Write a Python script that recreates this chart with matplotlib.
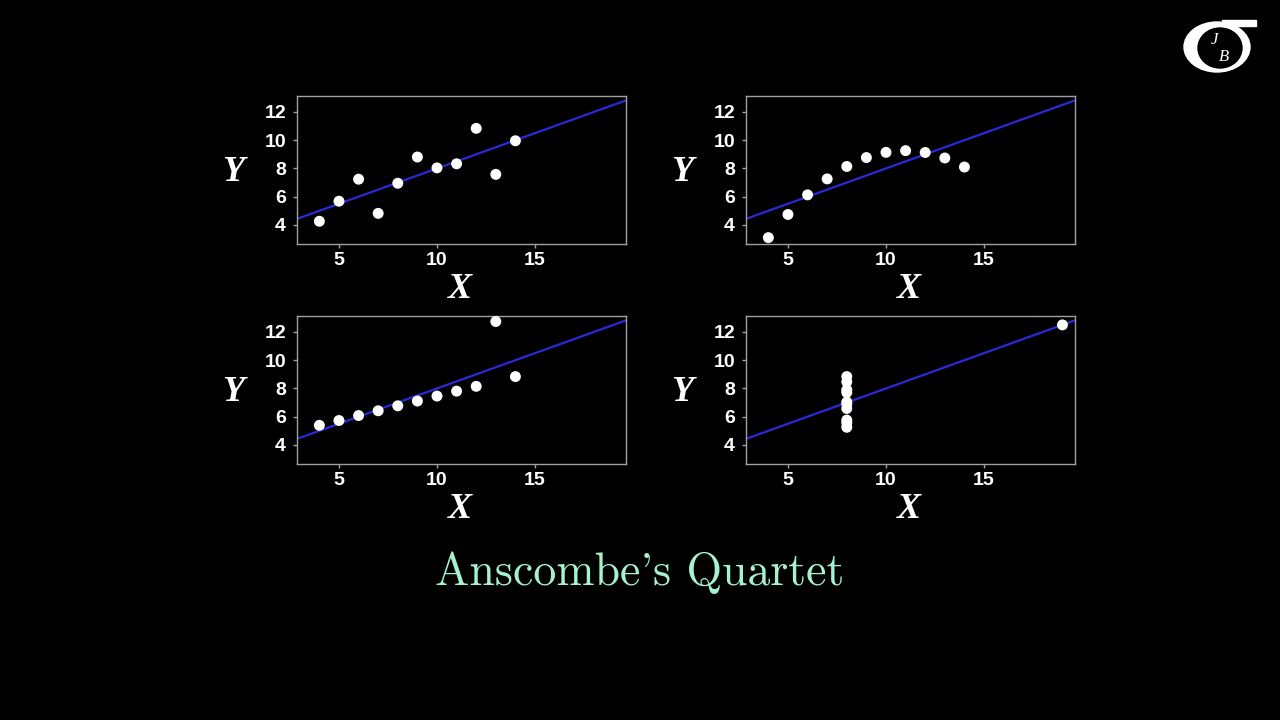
import matplotlib.pyplot as plt
from matplotlib.patches import Ellipse, Rectangle

x123 = [10, 8, 13, 9, 11, 14, 6, 4, 12, 7, 5]
y1 = [8.04, 6.95, 7.58, 8.81, 8.33, 9.96, 7.24, 4.26, 10.84, 4.82, 5.68]
y2 = [9.14, 8.14, 8.74, 8.77, 9.26, 8.10, 6.13, 3.10, 9.13, 7.26, 4.74]
y3 = [7.46, 6.77, 12.74, 7.11, 7.81, 8.84, 6.08, 5.39, 8.15, 6.42, 5.73]
x4 = [8, 8, 8, 8, 8, 8, 8, 19, 8, 8, 8]
y4 = [6.58, 5.76, 7.71, 8.84, 8.47, 7.04, 5.25, 12.50, 5.56, 7.91, 6.89]

# fitted line y = 3 + 0.5 x (same for all four sets)
fit_a = 3.0
fit_b = 0.5
xticks = [5, 10, 15]
yticks = [4, 6, 8, 10, 12]
title = "Anscombe's Quartet"

fig = plt.figure(figsize=(12.8, 7.2), dpi=100, facecolor="black")

boxes = [
    [297 / 1280, 1 - 244 / 720, 329 / 1280, 148 / 720],
    [746 / 1280, 1 - 244 / 720, 329 / 1280, 148 / 720],
    [297 / 1280, 1 - 464 / 720, 329 / 1280, 148 / 720],
    [746 / 1280, 1 - 464 / 720, 329 / 1280, 148 / 720],
]
sets = [(x123, y1), (x123, y2), (x123, y3), (x4, y4)]

for box, (xs, ys) in zip(boxes, sets):
    ax = fig.add_axes(box, facecolor="black")
    xlim = (2.86, 19.64)
    ax.set_xlim(xlim)
    ax.set_ylim(2.65, 13.13)
    ax.plot(xlim, [fit_a + fit_b * v for v in xlim], color="#2a2ad8", lw=1.6, zorder=2)
    ax.scatter(xs, ys, s=62, color="white", edgecolors="none", zorder=3)
    ax.set_xticks(xticks)
    ax.set_yticks(yticks)
    ax.tick_params(color="#a0a0a0", labelcolor="white", length=3, width=1,
                   labelsize=14)
    ax.tick_params(axis="y", pad=5)
    ax.tick_params(axis="x", pad=3)
    for lab in ax.get_xticklabels() + ax.get_yticklabels():
        lab.set_family("Liberation Sans")
        lab.set_weight("bold")
    for sp in ax.spines.values():
        sp.set_color("#a0a0a0")
        sp.set_linewidth(1.0)
    ax.text(-0.195, 0.48, "Y", transform=ax.transAxes, color="white", fontsize=26,
            family="Liberation Serif", style="italic", weight="bold",
            ha="center", va="center")
    ax.text(0.495, -0.31, "X", transform=ax.transAxes, color="white", fontsize=26,
            family="Liberation Serif", style="italic", weight="bold",
            ha="center", va="center")

fig.text(0.5, 1 - 573 / 720, title, color="#a6f2cf", fontsize=33,
         family="cmr10", ha="center", va="center")

# logo in the top-right corner
lg = fig.add_axes([1182 / 1280, 1 - 75 / 720, 80 / 1280, 60 / 720])
lg.set_xlim(0, 80)
lg.set_ylim(0, 60)
lg.axis("off")
lg.add_patch(Ellipse((35, 28), 66, 50, color="white"))
lg.add_patch(Ellipse((38, 27), 44, 40, color="black"))
lg.add_patch(Rectangle((40, 49), 34, 6, color="white"))
lg.text(36, 27, "J", color="white", fontsize=12, family="Liberation Serif",
        style="italic", ha="right", va="bottom")
lg.text(37, 26, "B", color="white", fontsize=12, family="Liberation Serif",
        style="italic", ha="left", va="top")

fig.savefig("out.png", dpi=100, facecolor="black")
